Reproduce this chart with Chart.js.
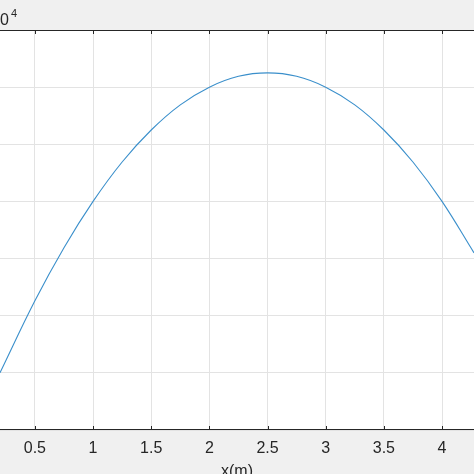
<!DOCTYPE html>
<html>
<head>
<meta charset="utf-8">
<script src="https://cdn.jsdelivr.net/npm/chart.js@4"></script>
<style>
  html, body { margin: 0; padding: 0; background: #f0f0f0; overflow: hidden; }
  .caixa { position: relative; width: 474px; height: 482px; }
</style>
</head>
<body>
<div class="caixa"><canvas id="myChart"></canvas></div>
<script>
// values (y in units of 10^4)
let valores_x = [0.2, 0.5, 0.75, 1, 1.25, 1.5, 1.75, 2, 2.25, 2.5, 2.75, 3, 3.25, 3.5, 3.75, 4, 4.275]
let valores_y = [1.0, 2.26, 3.19, 4.0, 4.69, 5.25, 5.69, 6.0, 6.19, 6.25, 6.19, 6.0, 5.69, 5.25, 4.69, 4.0, 3.1]
let ticks_x = [0.5, 1, 1.5, 2, 2.5, 3, 3.5, 4]
let ticks_y = [0, 1, 2, 3, 4, 5, 6, 7]

let cor_texto = '#262626'
let fonte = '"Liberation Sans", Arial, sans-serif'

let pontos = []
for (let i = 0; i < valores_x.length; i++) {
    pontos.push({ x: valores_x[i], y: valores_y[i] })
}

// gray figure, white axes box, dark box lines with inward ticks
const caixaMatlab = {
    id: 'caixaMatlab',
    beforeDraw(chart) {
        let ctx = chart.ctx
        let a = chart.chartArea
        ctx.save()
        ctx.fillStyle = '#f0f0f0'
        ctx.fillRect(0, 0, chart.width, chart.height)
        ctx.fillStyle = '#ffffff'
        ctx.fillRect(a.left, a.top, a.right - a.left, a.bottom - a.top)
        ctx.restore()
    },
    afterDraw(chart) {
        let ctx = chart.ctx
        let a = chart.chartArea
        let sx = chart.scales.x
        ctx.save()
        ctx.strokeStyle = cor_texto
        ctx.lineWidth = 1
        ctx.beginPath()
        ctx.moveTo(a.left, a.top + 0.5)
        ctx.lineTo(a.right, a.top + 0.5)
        ctx.moveTo(a.left, a.bottom - 0.5)
        ctx.lineTo(a.right, a.bottom - 0.5)
        for (let t of ticks_x) {
            let px = Math.round(sx.getPixelForValue(t)) + 0.5
            ctx.moveTo(px, a.top)
            ctx.lineTo(px, a.top + 4)
            ctx.moveTo(px, a.bottom)
            ctx.lineTo(px, a.bottom - 4)
        }
        ctx.stroke()

        // exponent label, mostly cut off at the left edge
        ctx.fillStyle = cor_texto
        ctx.font = '16px ' + fonte
        ctx.textAlign = 'right'
        ctx.textBaseline = 'alphabetic'
        ctx.fillText('\u00d710', 9, 25)
        ctx.font = '11px ' + fonte
        ctx.textAlign = 'left'
        ctx.fillText('4', 11, 17)
        ctx.restore()
    }
}

const config = {
    type: 'line',
    data: {
        datasets: [{
            data: pontos,
            borderColor: '#3a8fcb',
            borderWidth: 1.1,
            pointRadius: 0,
            tension: 0.4,
            fill: false
        }]
    },
    options: {
        responsive: true,
        maintainAspectRatio: false,
        animation: false,
        layout: { padding: { top: 30, left: 0, right: 0, bottom: 0 } },
        plugins: {
            legend: { display: false },
            tooltip: { enabled: false }
        },
        scales: {
            x: {
                type: 'linear',
                min: 0.2,
                max: 4.275,
                afterBuildTicks: function (scale) {
                    scale.ticks = ticks_x.map(v => ({ value: v }))
                },
                afterFit: function (scale) {
                    scale.height = 52
                },
                grid: { color: '#e3e3e3', drawTicks: false },
                border: { display: false },
                ticks: {
                    color: cor_texto,
                    padding: 9,
                    maxRotation: 0,
                    font: { family: fonte, size: 16 },
                    callback: function (v) { return String(v) }
                },
                title: {
                    display: true,
                    text: 'x(m)',
                    color: cor_texto,
                    font: { family: fonte, size: 16 },
                    padding: { top: 0, bottom: 1 }
                }
            },
            y: {
                min: 0,
                max: 7,
                afterBuildTicks: function (scale) {
                    scale.ticks = ticks_y.map(v => ({ value: v }))
                },
                afterFit: function (scale) {
                    scale.width = 0
                },
                grid: { color: '#e3e3e3', drawTicks: false },
                border: { display: false },
                ticks: { display: false }
            }
        }
    },
    plugins: [caixaMatlab]
}

const myChart = new Chart(document.getElementById('myChart'), config)
</script>
</body>
</html>
